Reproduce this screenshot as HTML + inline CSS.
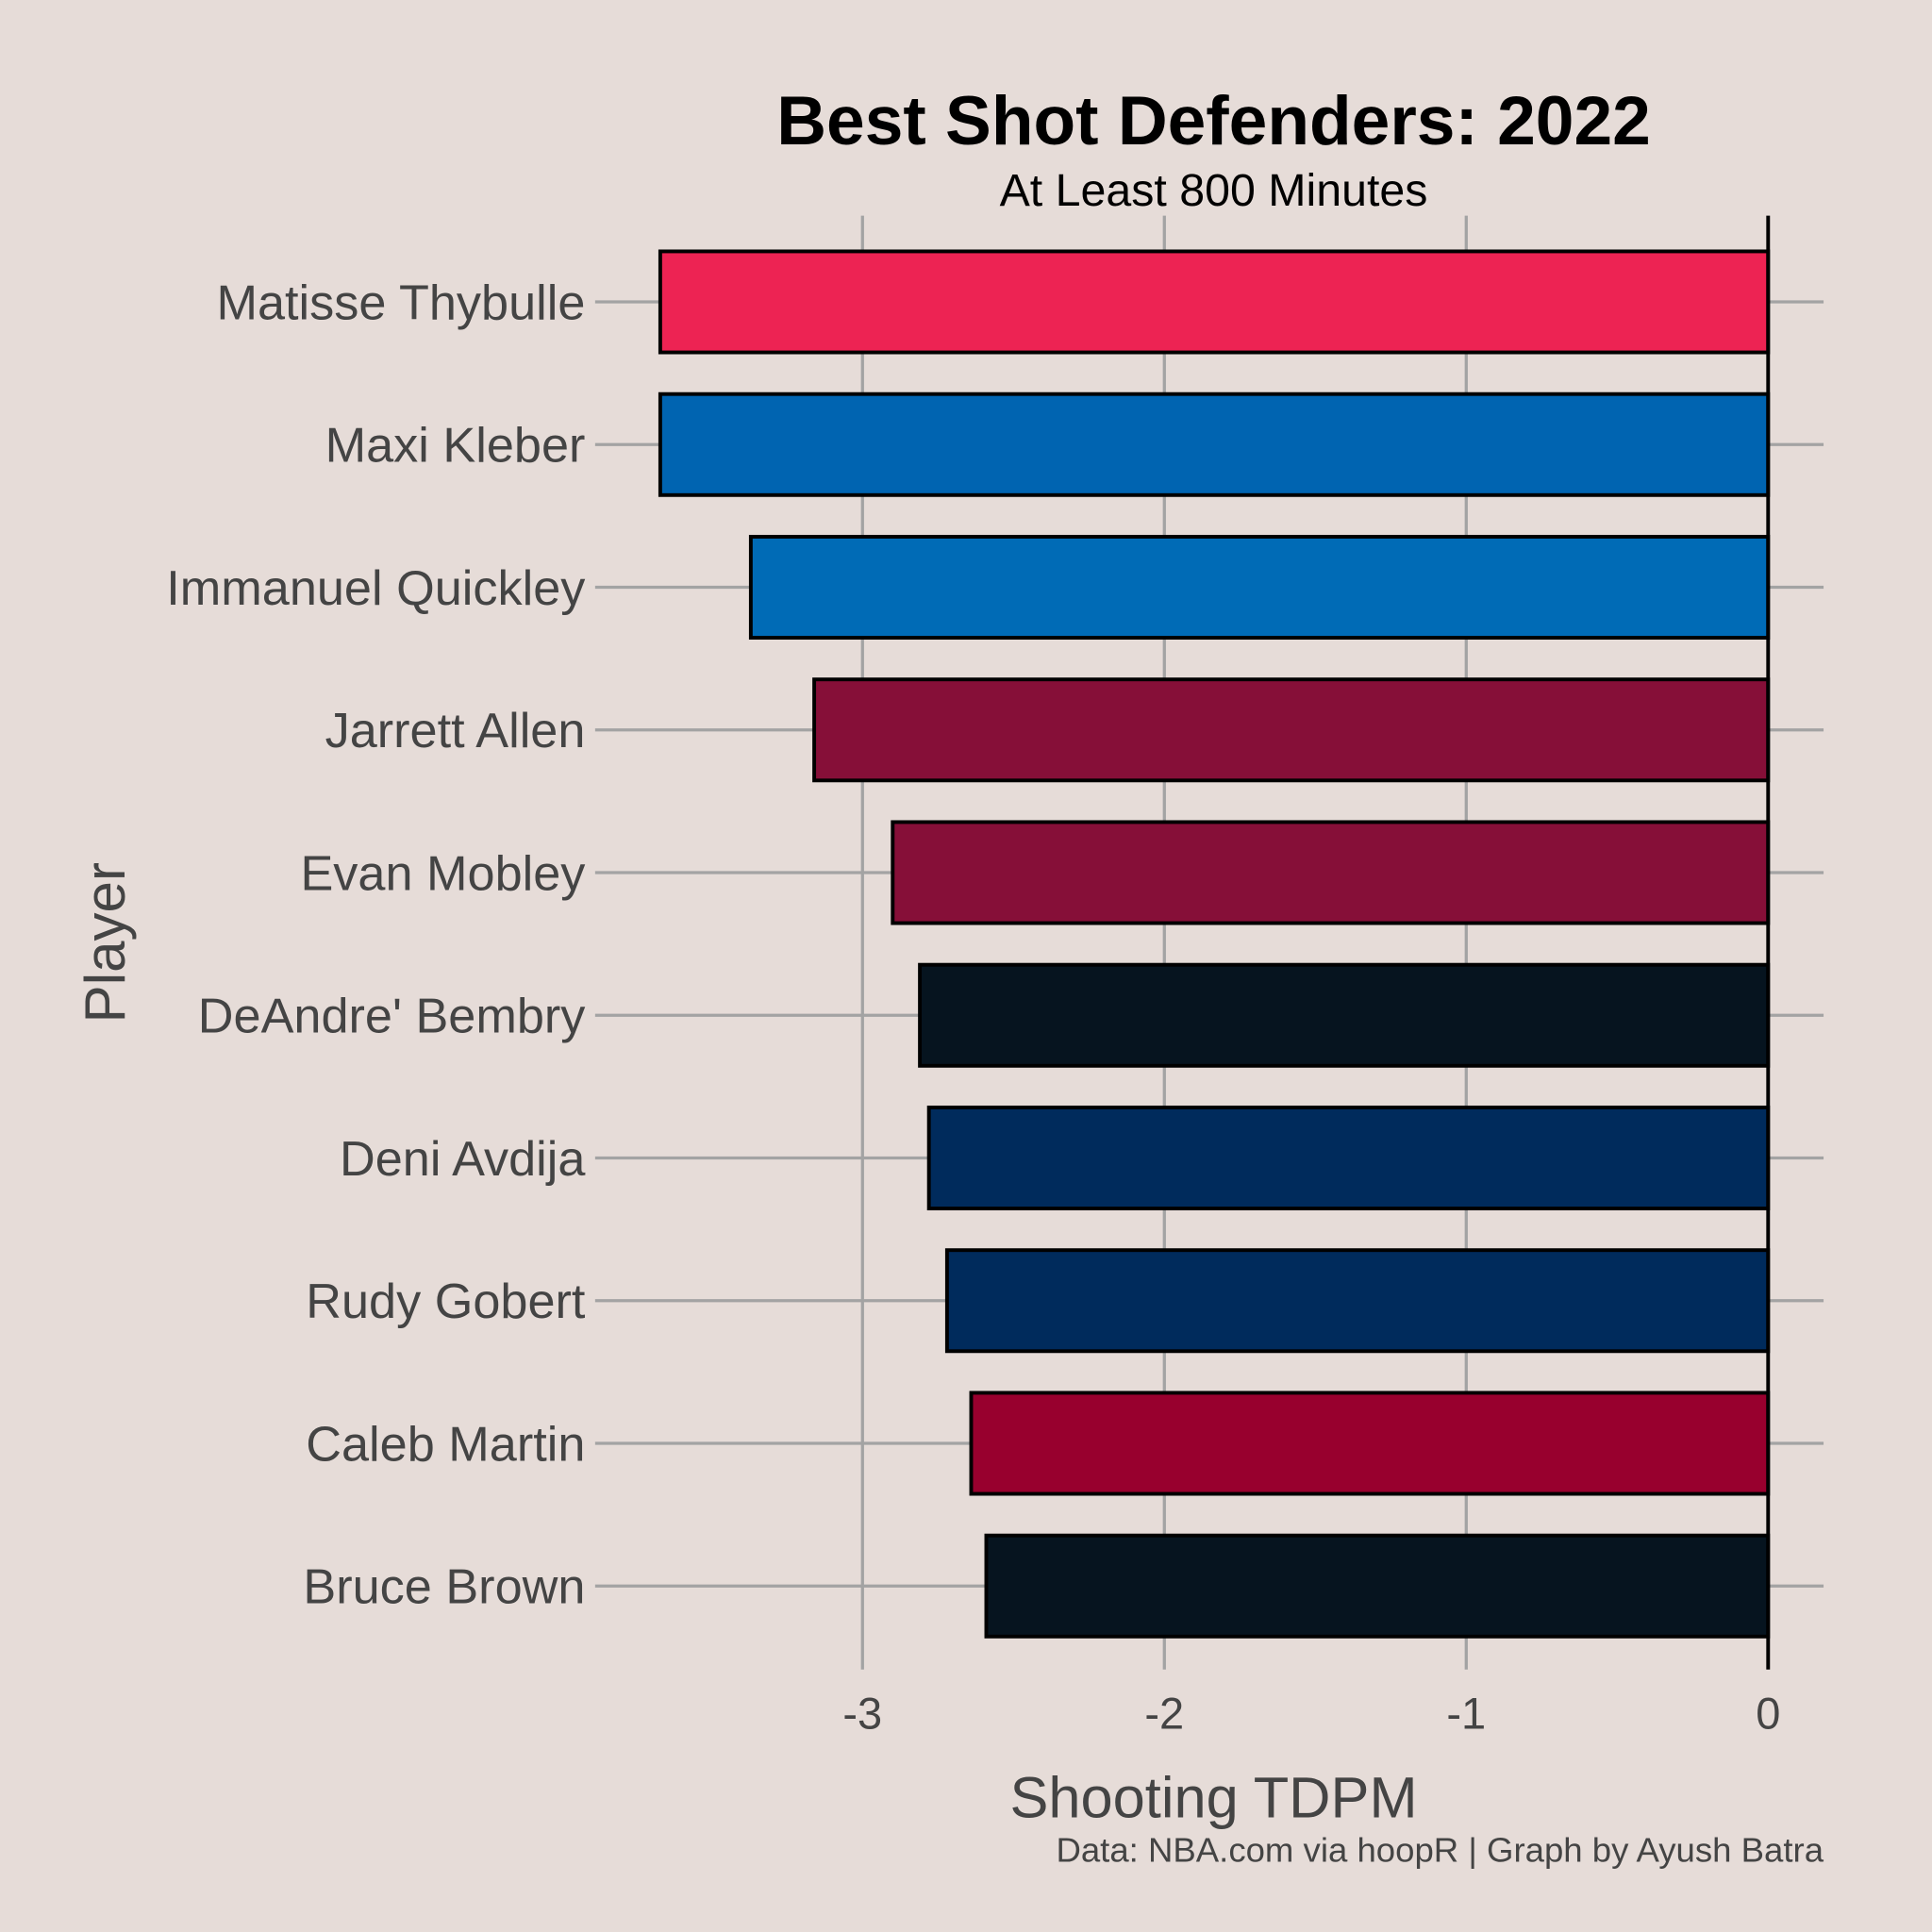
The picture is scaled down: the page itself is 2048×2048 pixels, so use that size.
<!DOCTYPE html>
<html><head><meta charset="utf-8"><style>html,body{margin:0;padding:0;background:#E6DCD8}svg{display:block}text{font-family:"Liberation Sans",Arial,sans-serif}</style></head>
<body>
<svg id="chart" width="2048" height="2048" viewBox="0 0 1568 1568" xmlns="http://www.w3.org/2000/svg">
<rect x="0" y="0" width="1568" height="1568" fill="#E6DCD8"/>
<text x="985" y="117" text-anchor="middle" font-size="56" font-weight="bold" fill="#000">Best Shot Defenders: 2022</text>
<text x="985" y="167" text-anchor="middle" font-size="37" fill="#000">At Least 800 Minutes</text>
<g id="grid"></g>
<g id="bars"></g>
<g id="labels"></g>
<text x="985" y="1475" text-anchor="middle" font-size="47" fill="#444">Shooting TDPM</text>
<text transform="translate(101,765) rotate(-90)" text-anchor="middle" font-size="46" fill="#444">Player</text>
<text x="1480" y="1511" text-anchor="end" font-size="28" fill="#444">Data: NBA.com via hoopR | Graph by Ayush Batra</text>
</svg>
<script>
const players = ["Matisse Thybulle","Maxi Kleber","Immanuel Quickley","Jarrett Allen","Evan Mobley","DeAndre' Bembry","Deni Avdija","Rudy Gobert","Caleb Martin","Bruce Brown"];
const values = [-3.67,-3.67,-3.37,-3.16,-2.90,-2.81,-2.78,-2.72,-2.64,-2.59];
const colors = ["#ED2353","#0064B1","#006BB6","#860F38","#860F38","#06141F","#002B5C","#002B5C","#98002E","#06141F"];
const ticks = [-3,-2,-1,0];
const tickLabels = ["-3","-2","-1","0"];
const NS="http://www.w3.org/2000/svg";
const xs = v => 1435 + v*245;
const ys = i => 245 + i*115.8;
const pTop=175, pBot=1355, pLeft=483, pRight=1480, bh=82;
function mk(tag, attrs, parent){const e=document.createElementNS(NS,tag);for(const k in attrs)e.setAttribute(k,attrs[k]);parent.appendChild(e);return e;}
const grid=document.getElementById('grid'), bars=document.getElementById('bars'), labels=document.getElementById('labels');
ticks.forEach((t,i)=>{
  if(t!==0){const l=mk('line',{x1:xs(t),x2:xs(t),y1:pTop,y2:pBot,stroke:'#A3A3A3','stroke-width':2.5},grid);
  
  }
  const tx=mk('text',{x:xs(t),y:1403,'text-anchor':'middle','font-size':36,fill:'#444'},labels);
  tx.textContent=tickLabels[i];
  
  
});
players.forEach((p,i)=>{
  const l=mk('line',{x1:pLeft,x2:pRight,y1:ys(i),y2:ys(i),stroke:'#A3A3A3','stroke-width':2.5},grid);
  
  
  const v=values[i];
  const r=mk('rect',{x:xs(v),y:ys(i)-bh/2,width:xs(0)-xs(v),height:bh,fill:colors[i],stroke:'#000','stroke-width':3},bars);
  
  
  const tx=mk('text',{x:475,y:ys(i)+14,'text-anchor':'end','font-size':40,fill:'#444'},labels);
  tx.textContent=p;
  
  
});
const z=mk('line',{x1:xs(0),x2:xs(0),y1:pTop,y2:pBot,stroke:'#000','stroke-width':3},bars);


</script>
</body></html>
